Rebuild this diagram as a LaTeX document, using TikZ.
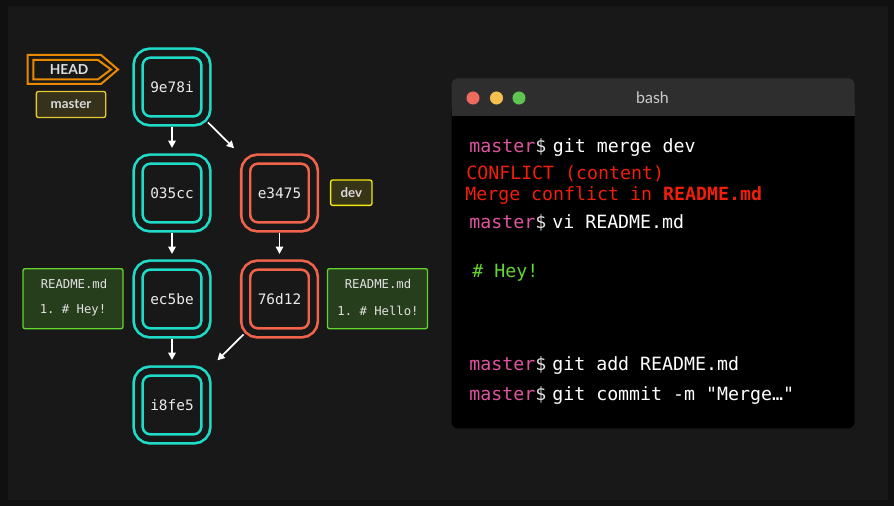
\documentclass[tikz,border=0pt]{standalone}
\usepackage{fontspec}
\setmainfont{Lato}
\setmonofont{DejaVu Sans Mono}
\usetikzlibrary{arrows.meta}
\definecolor{pagebg}{HTML}{101010}
\definecolor{panelbg}{HTML}{181818}
\definecolor{tealc}{HTML}{1FDCC8}
\definecolor{redc}{HTML}{F2634C}
\definecolor{pinkc}{HTML}{E0549F}
\definecolor{errc}{HTML}{F01E0A}
\definecolor{greenc}{HTML}{62D52F}
\definecolor{headc}{HTML}{E88A00}
\definecolor{masterc}{HTML}{E6C830}
\definecolor{devc}{HTML}{F5E614}
\definecolor{btnredc}{HTML}{EE6A5F}
\definecolor{btnyellowc}{HTML}{F5BF4F}
\definecolor{btngreenc}{HTML}{61C554}
\tikzset{
  commit/.style={draw=#1, line width=2pt, double=panelbg, double distance=4.7pt,
    rounded corners=9pt, minimum size=50.8pt, inner sep=0pt, outer sep=4.35pt,
    text=white!92!black, font=\ttfamily\fontsize{10.8}{12}\selectfont},
  parent/.style={draw=white, line width=1.3pt, -{Triangle[length=5.5pt,width=5.5pt]}},
  branchtag/.style={draw=#1, line width=1pt, fill=#1!14!panelbg, rounded corners=1.5pt,
    text=white!85!black, font=\bfseries\fontsize{10}{12}\selectfont, inner sep=0pt},
  filebox/.style={draw=greenc, line width=1pt, fill=greenc!20!panelbg, rounded corners=1.5pt,
    minimum width=75pt, minimum height=45pt, inner sep=0pt},
  filetext/.style={text=white!88!black, font=\ttfamily\fontsize{9.2}{11}\selectfont},
  termline/.style={anchor=base west, inner sep=0pt, text=#1, font=\ttfamily\fontsize{13.7}{16}\selectfont},
  light/.style={circle, fill=#1, minimum size=9.8pt, inner sep=0pt}
}
\begin{document}
\begin{tikzpicture}[x=0.75pt,y=-0.75pt]
\useasboundingbox (0,0) rectangle (894,506);
\fill[pagebg] (0,0) rectangle (894,506);
\fill[panelbg] (8,6) rectangle (888,500);

\node[commit=tealc] (c9e78i) at (172,87) {9e78i};
\node[commit=tealc] (c035cc) at (172,193) {035cc};
\node[commit=tealc] (cec5be) at (172,299) {ec5be};
\node[commit=tealc] (ci8fe5) at (172,405) {i8fe5};
\node[commit=redc] (ce3475) at (279.5,193) {e3475};
\node[commit=redc] (c76d12) at (279.5,299) {76d12};

\draw[parent, shorten >=4pt] (c9e78i) -- (c035cc);
\draw[parent, shorten >=4pt] (c035cc) -- (cec5be);
\draw[parent, shorten >=4pt] (cec5be) -- (ci8fe5);
\draw[parent, shorten >=4pt] (ce3475) -- (c76d12);
\draw[parent, shorten <=-4pt, shorten >=6pt] (c9e78i) -- (ce3475);
\draw[parent, shorten <=-4pt, shorten >=6pt] (c76d12) -- (ci8fe5);

\draw[draw=headc, line width=1.5pt, line join=miter]
  (27.7,55) -- (101,55) -- (118,69.5) -- (101,84) -- (27.7,84) -- cycle;
\draw[draw=headc, line width=1.5pt, line join=miter]
  (33.3,60) -- (98,60) -- (111,69.5) -- (98,79.3) -- (33.3,79.3) -- cycle;
\node[text=white!88!black, font=\bfseries\fontsize{10.3}{12}\selectfont, inner sep=0pt] (headlabel) at (69,70) {HEAD};
\node[branchtag=masterc, minimum width=52pt, minimum height=19.5pt] (master) at (71,104.5) {master};
\node[branchtag=devc, minimum width=31pt, minimum height=19pt] (dev) at (351.3,192.7) {dev};

\node[filebox] (fileleft) at (73,298.7) {};
\node[filetext] at (74,283.5) {README.md};
\node[filetext] at (73,310.5) {1. \# Hey!};
\node[filebox] (fileright) at (377.5,298.7) {};
\node[filetext] at (378,283.5) {README.md};
\node[filetext] at (378,310.5) {1. \# Hello!};

\fill[black, rounded corners=4.5pt] (451.7,100) rectangle (854.5,428.3);
\fill[black!82!white, rounded corners=4.5pt] (451.7,116) |- (854.5,78.5) -- (854.5,116) -- cycle;
\fill[black!82!white] (451.7,105) rectangle (854.5,116);
\node[light=btnredc] (btnred) at (473,98) {};
\node[light=btnyellowc] (btnyellow) at (496.5,98) {};
\node[light=btngreenc] (btngreen) at (519,98) {};
\node[text=white!80!black, font=\fontsize{12}{14}\selectfont, inner sep=0pt] (title) at (652.5,98) {bash};

\node[termline=pinkc] at (469,153) {master\textcolor{white!90!black}{\$}};
\node[termline=white] at (552.5,153) {git merge dev};
\node[termline=errc] at (466,180) {CONFLICT (content)};
\node[termline=errc] at (465,201) {Merge conflict in \textbf{README.md}};
\node[termline=pinkc] at (469,229) {master\textcolor{white!90!black}{\$}};
\node[termline=white] at (552,229) {vi README.md};
\node[termline=greenc] at (472,278) {\# Hey!};
\node[termline=pinkc] at (469,371) {master\textcolor{white!90!black}{\$}};
\node[termline=white] at (552,371) {git add README.md};
\node[termline=pinkc] at (469,401) {master\textcolor{white!90!black}{\$}};
\node[termline=white] at (552,401) {git commit -m "Merge…"};
\end{tikzpicture}
\end{document}
